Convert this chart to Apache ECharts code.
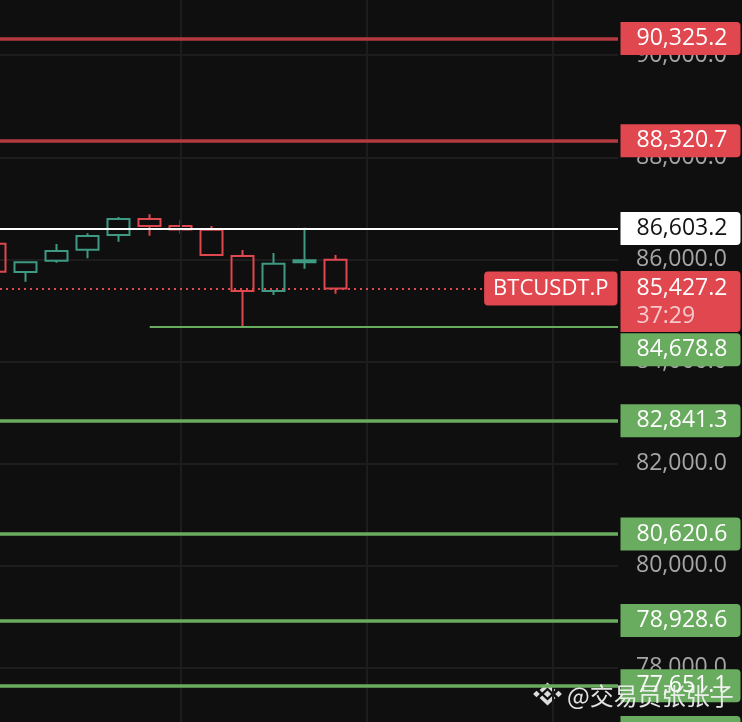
<!DOCTYPE html>
<html><head><meta charset="utf-8">
<script src="https://cdn.jsdelivr.net/npm/echarts@6/dist/echarts.min.js"></script>
<style>html,body{margin:0;padding:0;background:#0f0f0f;overflow:hidden}#c{width:742px;height:722px}</style>
</head><body><div id="c"></div>
<script>
// ---- data ----
const CANDLE_X = [0, 1, 2, 3, 4, 5, 6, 7, 8, 9, 10, 11];
const OPEN  = [86306, 85752, 85973, 86189, 86477, 86790, 86653, 86580, 86066, 85380, 85942, 85993];
const CLOSE = [85758, 85944, 86163, 86457, 86790, 86653, 86585, 86085, 85380, 85915, 85981, 85427.2];
const LOW   = [85700, 85562, 85934, 86020, 86346, 86463, 86502, 86085, 84678.8, 85301, 85817, 85327];
const HIGH  = [86350, 85944, 86300, 86510, 86829, 86882, 86771, 86653, 86183, 86124, 86620, 86085];
const RESISTANCE = [90325.2, 88320.7];
const PIVOT = 86603.2;
const SWING_LOW = 84678.8;
const SWING_LOW_FROM = 5;
const SUPPORT = [82841.3, 80620.6, 78928.6, 77651.1, 76735.0];
const LAST_PRICE = 85427.2;
const COUNTDOWN = '37:29';
const SYMBOL = 'BTCUSDT.P';
const Y_MIN = 76000, Y_MAX = 92000, Y_STEP = 2000;
const V_GRID_X = [6, 12, 18];
const WATERMARK = '@交易员张张子';

// ---- styles ----
const BG = '#0f0f0f';
const GRID_C = '#1d1d1d';
const RED = '#e0474f';
const RED_LINE = '#b33b40';
const GREEN = '#6aac5f';
const UP_C = '#3f9a84';
const FONT = '"Open Sans", "DejaVu Sans", sans-serif';
const X_MIN = 0.17;
const X_MAX = X_MIN + 618 / 31;

const fmt = v => v.toLocaleString('en-US', {minimumFractionDigits: 1, maximumFractionDigits: 1});

const chart = echarts.init(document.getElementById('c'), null, {renderer: 'canvas'});

const markData = [
  ...V_GRID_X.map(x => ({xAxis: x, lineStyle: {color: GRID_C, width: 2, type: 'solid'}})),
  ...RESISTANCE.map(v => ({yAxis: v, lineStyle: {color: RED_LINE, width: 3.5, type: 'solid'}})),
  {yAxis: PIVOT, lineStyle: {color: '#ffffff', width: 2, type: 'solid'}},
  ...SUPPORT.map(v => ({yAxis: v, lineStyle: {color: GREEN, width: 3.5, type: 'solid'}})),
  [{coord: [SWING_LOW_FROM, SWING_LOW], lineStyle: {color: GREEN, width: 2, type: 'solid'}}, {coord: [X_MAX, SWING_LOW]}],
  {yAxis: LAST_PRICE, lineStyle: {color: RED, width: 2, type: [2, 4]}}
];

const baseLabel = {
  show: true, position: 'right', distance: 2,
  fontFamily: FONT, fontSize: 23, lineHeight: 33,
  width: 92, padding: [0, 12, 0, 16], align: 'left',
  borderRadius: [0, 4, 4, 0], color: '#ffffff', opacity: 1
};
const labelItem = (v, bg, color, extra) => ({
  value: [0, v],
  label: Object.assign({}, baseLabel, {backgroundColor: bg, color: color, formatter: fmt(v)}, extra || {})
});

const labelData = [
  ...RESISTANCE.map(v => labelItem(v, RED, '#ffffff')),
  labelItem(PIVOT, '#ffffff', '#131313'),
  labelItem(SWING_LOW, GREEN, '#ffffff', {offset: [0, 23]}),
  ...SUPPORT.map(v => labelItem(v, GREEN, '#ffffff')),
  {
    value: [0, LAST_PRICE],
    label: Object.assign({}, baseLabel, {
      backgroundColor: RED, lineHeight: 28, padding: [3, 12, 2, 16], offset: [0, 13],
      formatter: '{p|' + fmt(LAST_PRICE) + '}\n{t|' + COUNTDOWN + '}',
      rich: {
        p: {fontFamily: FONT, fontSize: 23, lineHeight: 28, color: '#ffffff', width: 92},
        t: {fontFamily: FONT, fontSize: 23, lineHeight: 28, color: 'rgba(255,255,255,0.7)', width: 92}
      }
    })
  },
  {
    value: [0, LAST_PRICE],
    label: {
      show: true, position: 'left', distance: 0, formatter: SYMBOL, opacity: 1,
      fontFamily: FONT, fontSize: 22, lineHeight: 34, padding: [0, 9, 0, 9],
      backgroundColor: RED, color: '#ffffff', borderRadius: 4
    }
  }
];

const option = {
  backgroundColor: BG,
  animation: false,
  grid: [
    {left: 0, right: 124, top: -47, bottom: -48, outerBoundsMode: 'none', containLabel: false},
    {left: 618, right: 0, top: -47, bottom: -48, outerBoundsMode: 'none', containLabel: false}
  ],
  xAxis: [
    {type: 'value', gridIndex: 0, min: X_MIN, max: X_MAX, show: false, splitLine: {show: false}},
    {type: 'value', gridIndex: 1, min: 0, max: 1, show: false, splitLine: {show: false}}
  ],
  yAxis: [
    {
      type: 'value', gridIndex: 0, position: 'right', min: Y_MIN, max: Y_MAX, interval: Y_STEP,
      axisLine: {show: false}, axisTick: {show: false},
      axisLabel: {margin: 18, color: '#a6a6a6', fontFamily: FONT, fontSize: 23, formatter: v => fmt(v)},
      splitLine: {show: true, lineStyle: {color: GRID_C, width: 2}}
    },
    {type: 'value', gridIndex: 1, min: Y_MIN, max: Y_MAX, show: false, splitLine: {show: false}}
  ],
  series: [
    {
      type: 'line', xAxisIndex: 0, yAxisIndex: 0, data: [], z: 1, silent: true,
      markLine: {silent: true, symbol: ['none', 'none'], label: {show: false}, animation: false, data: markData}
    },
    {
      type: 'candlestick', xAxisIndex: 0, yAxisIndex: 0, z: 3, barWidth: 22,
      data: CANDLE_X.map((x, i) => [x, OPEN[i], CLOSE[i], LOW[i], HIGH[i]]),
      encode: {x: 0, y: [1, 2, 3, 4]},
      itemStyle: {color: 'transparent', color0: 'transparent', borderColor: UP_C, borderColor0: RED, borderWidth: 2}
    },
    {
      type: 'scatter', xAxisIndex: 1, yAxisIndex: 1, z: 5, symbolSize: 1, silent: true,
      itemStyle: {color: 'rgba(0,0,0,0)', opacity: 1},
      emphasis: {disabled: true},
      data: labelData
    }
  ],
  graphic: [
    {
      type: 'group', x: 547.5, y: 694, z: 100, scaleX: 1.05, scaleY: 1.0,
      children: [
        {type: 'polygon', shape: {points: [[0, -3.5], [3.5, 0], [0, 3.5], [-3.5, 0]]}, style: {fill: '#dcdcdc'}},
        {type: 'polygon', shape: {points: [[-10.5, -3.2], [-7.3, 0], [-10.5, 3.2], [-13.7, 0]]}, style: {fill: '#dcdcdc'}},
        {type: 'polygon', shape: {points: [[10.5, -3.2], [13.7, 0], [10.5, 3.2], [7.3, 0]]}, style: {fill: '#dcdcdc'}},
        {type: 'polygon', shape: {points: [[0, -11.5], [7.5, -4], [5, -1.5], [0, -6.5], [-5, -1.5], [-7.5, -4]]}, style: {fill: '#dcdcdc'}},
        {type: 'polygon', shape: {points: [[0, 11.5], [7.5, 4], [5, 1.5], [0, 6.5], [-5, 1.5], [-7.5, 4]]}, style: {fill: '#dcdcdc'}}
      ]
    },
    {
      type: 'text', x: 567, y: 696, z: 100,
      style: {
        text: WATERMARK, font: '24px "Noto Sans CJK SC", sans-serif', fill: 'rgba(240,240,240,0.95)',
        verticalAlign: 'middle', align: 'left',
        shadowColor: 'rgba(0,0,0,0.6)', shadowBlur: 3
      }
    }
  ]
};
chart.setOption(option);
</script>
</body></html>
